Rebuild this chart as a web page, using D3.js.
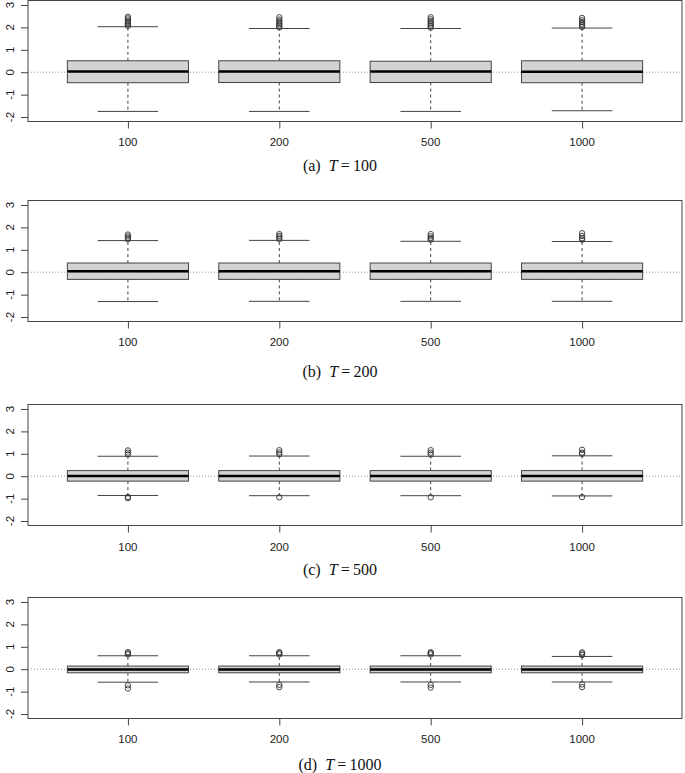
<!DOCTYPE html>
<html>
<head>
<meta charset="utf-8">
<script src="https://cdn.jsdelivr.net/npm/d3@7"></script>
<style>
  html, body { margin: 0; padding: 0; background: #fff; }
  svg { display: block; }
</style>
</head>
<body>
<svg id="chart" width="685" height="773"></svg>
<script>
// ---------- data ----------
const categories = ["100", "200", "500", "1000"];
const yTicks = [-2, -1, 0, 1, 2, 3];
const panelLetters = ["(a)", "(b)", "(c)", "(d)"];
const panelT = ["100", "200", "500", "1000"];

// [lower whisker, Q1, median, Q3, upper whisker] per category
const statsT100 = [
  [-1.75, -0.47, 0.03, 0.51, 2.03],
  [-1.75, -0.46, 0.03, 0.51, 1.95],
  [-1.75, -0.46, 0.03, 0.49, 1.95],
  [-1.72, -0.47, 0.02, 0.51, 1.97]
];
const outT100 = [
  [2.07, 2.13, 2.19, 2.25, 2.32, 2.40, 2.47],
  [2.00, 2.07, 2.14, 2.20, 2.27, 2.35, 2.45],
  [1.99, 2.06, 2.13, 2.20, 2.28, 2.36, 2.45],
  [2.02, 2.09, 2.16, 2.24, 2.32, 2.42]
];
const statsT200 = [
  [-1.31, -0.32, 0.04, 0.41, 1.41],
  [-1.30, -0.32, 0.04, 0.41, 1.42],
  [-1.30, -0.32, 0.04, 0.41, 1.38],
  [-1.30, -0.32, 0.04, 0.41, 1.37]
];
const outT200 = [
  [1.47, 1.53, 1.60, 1.68],
  [1.48, 1.55, 1.62, 1.70],
  [1.45, 1.52, 1.60, 1.70],
  [1.45, 1.52, 1.62, 1.74]
];
const statsT500 = [
  [-0.86, -0.22, 0.01, 0.25, 0.89],
  [-0.87, -0.22, 0.01, 0.25, 0.90],
  [-0.87, -0.22, 0.01, 0.25, 0.89],
  [-0.88, -0.22, 0.01, 0.25, 0.91]
];
const outT500 = [
  [0.97, 1.05, 1.15, -0.93, -0.98],
  [0.98, 1.06, 1.16, -0.94],
  [0.97, 1.05, 1.16, -0.94],
  [1.00, 1.05, 1.18, -0.93]
];
const statsT1000 = [
  [-0.58, -0.16, -0.01, 0.14, 0.60],
  [-0.57, -0.16, -0.01, 0.14, 0.60],
  [-0.57, -0.16, -0.01, 0.14, 0.60],
  [-0.57, -0.16, -0.01, 0.14, 0.57]
];
const outT1000 = [
  [0.66, 0.71, 0.76, -0.72, -0.86],
  [0.66, 0.72, 0.76, -0.70, -0.80],
  [0.66, 0.72, 0.76, -0.70, -0.82],
  [0.63, 0.70, 0.75, -0.68, -0.80]
];

const panelStats = [statsT100, statsT200, statsT500, statsT1000];
const panelOut = [outT100, outT200, outT500, outT1000];

// ---------- layout ----------
const svg = d3.select("#chart");
const left = 28, right = 682, plotH = 121;
const panelTops = [0.5, 200.5, 404.5, 597.5];
const labelY = [142, 342, 547, 739];
const captionY = [165, 371, 569, 764];
const lineCol = "#444";

const x = d3.scaleLinear().domain([0.34, 4.66]).range([left, right]);
const boxW = x(0.8) - x(0);
const capW = boxW / 2;

panelStats.forEach((stats, p) => {
  const top = panelTops[p];
  const y = d3.scaleLinear().domain([-2.2, 3.2]).range([top + plotH, top]);
  const g = svg.append("g");

  // boxes
  stats.forEach((s, i) => {
    const cx = x(i + 1);
    const [lo, q1, med, q3, hi] = s;
    // whiskers (dashed)
    g.append("line").attr("x1", cx).attr("x2", cx).attr("y1", y(q3)).attr("y2", y(hi))
      .attr("stroke", lineCol).attr("stroke-width", 1).attr("stroke-dasharray", "3,3");
    g.append("line").attr("x1", cx).attr("x2", cx).attr("y1", y(q1)).attr("y2", y(lo))
      .attr("stroke", lineCol).attr("stroke-width", 1).attr("stroke-dasharray", "3,3");
    // caps
    [lo, hi].forEach(v => {
      g.append("line").attr("x1", cx - capW / 2).attr("x2", cx + capW / 2)
        .attr("y1", y(v)).attr("y2", y(v)).attr("stroke", lineCol).attr("stroke-width", 1);
    });
    // box
    g.append("rect").attr("x", cx - boxW / 2).attr("y", y(q3))
      .attr("width", boxW).attr("height", y(q1) - y(q3))
      .attr("fill", "#d3d3d3").attr("stroke", lineCol).attr("stroke-width", 1);
  });

  // zero reference line (dotted)
  g.append("line").attr("x1", left).attr("x2", right).attr("y1", y(0)).attr("y2", y(0))
    .attr("stroke", "#999").attr("stroke-width", 1).attr("stroke-dasharray", "1,2");

  // medians and outliers
  stats.forEach((s, i) => {
    const cx = x(i + 1);
    g.append("line").attr("x1", cx - boxW / 2).attr("x2", cx + boxW / 2)
      .attr("y1", y(s[2])).attr("y2", y(s[2])).attr("stroke", "#000").attr("stroke-width", 2.6);
    g.selectAll(null).data(panelOut[p][i]).enter().append("circle")
      .attr("cx", cx).attr("cy", d => y(d)).attr("r", 2.7)
      .attr("fill", "none").attr("stroke", "#333").attr("stroke-width", 0.9);
  });

  // frame
  g.append("rect").attr("x", left).attr("y", top).attr("width", right - left).attr("height", plotH)
    .attr("fill", "none").attr("stroke", lineCol).attr("stroke-width", 1);

  // y axis
  const yAxis = d3.axisLeft(y).tickValues(yTicks).tickSize(7).tickFormat(d3.format("d"));
  const ya = g.append("g").attr("transform", `translate(${left},0)`).call(yAxis);
  ya.select(".domain").remove();
  ya.selectAll(".tick line").attr("stroke", lineCol);
  ya.selectAll(".tick text").remove();
  yTicks.forEach(t => {
    g.append("text").attr("transform", `translate(10,${y(t)}) rotate(-90)`)
      .attr("text-anchor", "middle").attr("dominant-baseline", "central")
      .attr("font-family", "Liberation Sans, Arial, sans-serif").attr("font-size", 11.5)
      .attr("fill", "#222").text(t);
  });

  // x axis
  const xAxis = d3.axisBottom(x).tickValues([1, 2, 3, 4]).tickSize(7).tickFormat((d) => categories[d - 1]);
  const xa = g.append("g").attr("transform", `translate(0,${top + plotH})`).call(xAxis);
  xa.select(".domain").remove();
  xa.selectAll(".tick line").attr("stroke", lineCol);
  xa.selectAll(".tick text").remove();
  categories.forEach((c, i) => {
    g.append("text").attr("x", x(i + 1)).attr("y", labelY[p])
      .attr("text-anchor", "middle").attr("dominant-baseline", "central")
      .attr("font-family", "Liberation Sans, Arial, sans-serif").attr("font-size", 11.5)
      .attr("fill", "#222").text(c);
  });

  // caption
  const cap = svg.append("text").attr("x", 340).attr("y", captionY[p])
    .attr("text-anchor", "middle").attr("dominant-baseline", "central")
    .attr("font-family", "Liberation Serif, Times New Roman, serif").attr("font-size", 16)
    .attr("fill", "#111");
  cap.append("tspan").text(panelLetters[p] + "\u2002");
  cap.append("tspan").attr("font-style", "italic").text("T");
  cap.append("tspan").text("\u2009=\u2009" + panelT[p]);
});
</script>
</body>
</html>
